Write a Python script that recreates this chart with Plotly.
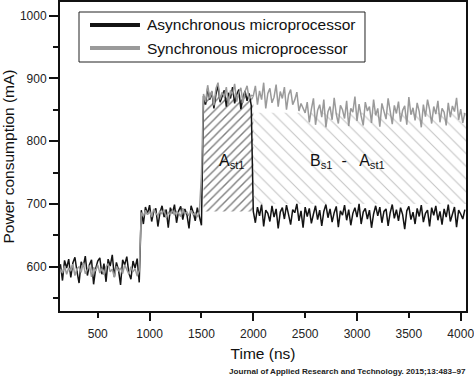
import plotly.graph_objects as go

# ---------------- data ----------------
STEP = 20  # ns between samples
seg_starts = [140, 920, 1520, 2000]
seg_ends = [900, 1500, 1980, 4040]

async_seg1 = [604, 578, 610, 598, 612, 583, 606, 615, 592, 574, 608, 600, 617, 586, 603, 611, 572, 597, 609, 614,
              588, 605, 576, 612, 601, 619, 584, 607, 595, 571, 611, 603, 616, 590, 580, 609, 598, 613, 575]
async_seg2 = [690, 668, 695, 684, 698, 672, 688, 693, 664, 686, 697, 679, 691, 662, 694, 685, 699, 670, 689, 696,
              675, 692, 683, 661, 697, 687, 673, 694, 680, 666]
async_seg3 = [872, 858, 884, 866, 879, 852, 875, 888, 862, 870, 881, 855, 877, 868, 886, 860, 874, 882, 851, 869,
              880, 864, 876, 857]
async_seg4 = [688, 670, 695, 681, 699, 664, 690, 685, 672, 697, 679, 692, 661, 687, 694, 676, 698, 683, 667, 691,
              686, 700, 673, 689, 662, 695, 680, 693, 669, 684, 697, 675, 690, 665, 688, 699, 678, 692, 671, 686,
              696, 663, 689, 682, 698, 674, 691, 666, 685, 694, 679, 700, 668, 687, 693, 676, 690, 662, 684, 697,
              681, 695, 670, 688, 692, 665, 686, 699, 677, 691, 673, 694, 683, 660, 689, 696, 675, 687, 668, 693,
              680, 698, 671, 685, 690, 664, 694, 682, 697, 674, 688, 667, 692, 679, 699, 672, 686, 695, 663, 690,
              684, 676, 691]

sync_seg1 = [596, 590, 601, 588, 598, 593, 604, 586, 597, 600, 591, 606, 589, 595, 602, 584, 599, 593, 603, 590,
             597, 587, 600, 605, 592, 596, 583, 601, 594, 598, 589, 603, 595, 588, 600, 592, 597, 585, 594]
sync_seg2 = [686, 680, 690, 683, 688, 679, 692, 685, 681, 689, 684, 691, 678, 687, 683, 690, 682, 688, 685, 680,
             693, 684, 687, 681, 690, 683, 686, 679, 688, 745]
sync_seg3 = [875, 862, 889, 868, 880, 857, 884, 893, 866, 878, 870, 886, 859, 881, 874, 891, 863, 877, 885, 861,
             879, 888, 867, 873]
sync_seg4 = [872, 888, 858, 880, 866, 893, 852, 876, 884, 861, 870, 890, 855, 879, 868, 886, 850, 874, 882, 858,
             866, 878, 848, 860, 853,
             845, 862, 830, 851, 868, 826, 849, 858, 838, 866, 822, 847, 855, 834, 869, 843, 828, 857, 850, 836,
             864, 824, 852, 846, 871, 832, 859, 840, 825, 862, 848, 855, 829, 866, 841, 852, 823, 860, 845, 835,
             868, 850, 827, 857, 844, 863, 831, 849, 856, 826, 870, 842, 853, 833, 861, 847, 822, 858, 839, 866,
             850, 828, 855, 843, 864, 830, 852, 846, 825, 861, 838, 856, 847, 869, 834, 851, 829, 845]

# hatched regions (data units)
region_a_x = [1520, 2000, 2000, 1520]
region_a_y = [688, 688, 872, 872]
region_b_x = [2000, 4051, 4051, 2000]
region_b_y = [700, 700, 845, 845]

label_a = "A<sub>st1</sub>"
label_a_pos = (1796, 767)
label_b = "B<sub>s1</sub>  -   A<sub>st1</sub>"
label_b_pos = (2904, 767)

x_range = [136, 4051]
y_range = [529.5, 1021.5]
x_ticks = [500, 1000, 1500, 2000, 2500, 3000, 3500, 4000]
y_ticks = [600, 700, 800, 900, 1000]

series_names = ["Asynchronous microprocessor", "Synchronous microprocessor"]
series_colors = ["#141414", "#9a9a9a"]

# ---------------- build ----------------
time = []
for s, e in zip(seg_starts, seg_ends):
    time += list(range(s, e + 1, STEP))
async_vals = async_seg1 + async_seg2 + async_seg3 + async_seg4
sync_vals = sync_seg1 + sync_seg2 + sync_seg3 + sync_seg4

FONT = "Liberation Sans, Arial, Helvetica, sans-serif"

fig = go.Figure()

# hatched areas
fig.add_trace(go.Scatter(
    x=region_b_x, y=region_b_y, fill="toself", mode="lines",
    line=dict(width=0, color="rgba(0,0,0,0)"), fillcolor="rgba(0,0,0,0)",
    fillpattern=dict(shape="\\", fgcolor="#8a8a8a", bgcolor="rgba(0,0,0,0)", size=9, solidity=0.12),
    showlegend=False, hoverinfo="skip", xaxis="x2"))
fig.add_trace(go.Scatter(
    x=region_a_x, y=region_a_y, fill="toself", mode="lines",
    line=dict(width=0, color="rgba(0,0,0,0)"), fillcolor="rgba(0,0,0,0)",
    fillpattern=dict(shape="/", fgcolor="#000000", bgcolor="rgba(0,0,0,0)", size=6, solidity=0.24),
    showlegend=False, hoverinfo="skip"))

# signals
for name, vals, col in zip(series_names, [async_vals, sync_vals], series_colors):
    fig.add_trace(go.Scatter(x=time, y=vals, mode="lines", name=name,
                             line=dict(color=col, width=1.5), showlegend=False))

# legend (drawn in paper coordinates)
fig.add_shape(type="rect", xref="paper", yref="paper", x0=0.0468, x1=0.7512, y0=0.8058, y1=0.9676,
              line=dict(color="#222", width=1), fillcolor="white", layer="above")
legend_rows = [0.9256, 0.8511]
for name, col, ry in zip(series_names, series_colors, legend_rows):
    fig.add_shape(type="line", xref="paper", yref="paper", x0=0.0739, x1=0.1970, y0=ry, y1=ry,
                  line=dict(color=col, width=4), layer="above")
    fig.add_annotation(xref="paper", yref="paper", x=0.2094, y=ry, xanchor="left", yanchor="middle",
                       text=name, showarrow=False, font=dict(family=FONT, size=15.5, color="#111"))

for txt, (lx, ly) in [(label_a, label_a_pos), (label_b, label_b_pos)]:
    fig.add_annotation(x=lx, y=ly, text=txt, showarrow=False,
                       font=dict(family=FONT, size=16, color="#111"))

fig.add_annotation(xref="paper", yref="paper", x=1.005, y=-0.197, xanchor="right", yanchor="middle",
                   text="Journal of Applied Research and Technology. 2015;13:483\u201397", showarrow=False,
                   font=dict(family=FONT, size=8.1, color="#222", weight="bold"))

axis_common = dict(showline=True, linewidth=2, linecolor="#111", mirror=True, showgrid=False,
                   zeroline=False, ticks="outside", tickwidth=2, tickcolor="#111", automargin=False,
                   tickfont=dict(family=FONT, size=12, color="#222"))

fig.update_layout(
    width=474, height=382,
    margin=dict(l=60, r=8, t=2, b=71),
    paper_bgcolor="white", plot_bgcolor="white",
    font=dict(family=FONT, color="#111"),
    showlegend=False,
    xaxis=dict(range=x_range, tickvals=x_ticks, ticklen=5, ticklabelstandoff=6,
               ticklabeloverflow="allow",
               title=dict(text="Time (ns)", font=dict(family=FONT, size=15.5, color="#111"), standoff=8),
               **axis_common),
    xaxis2=dict(range=x_range, overlaying="x", anchor="y", side="bottom", dtick=1000, tick0=0,
                ticklen=9, ticks="outside", tickwidth=2, tickcolor="#111", showticklabels=False,
                showline=False, showgrid=False, zeroline=False, automargin=False),
    yaxis=dict(range=y_range, tickvals=y_ticks, ticklen=9, ticklabeloverflow="allow",
               minor=dict(dtick=50, tick0=0, ticklen=5, ticks="outside", tickwidth=2, tickcolor="#111"),
               title=dict(text="Power consumption (mA)", font=dict(family=FONT, size=15.5, color="#111"),
                          standoff=6),
               **axis_common),
)

fig.write_html("out.html", config={"displayModeBar": False},
               post_script="document.body.style.margin='0';document.body.style.overflow='hidden';")
